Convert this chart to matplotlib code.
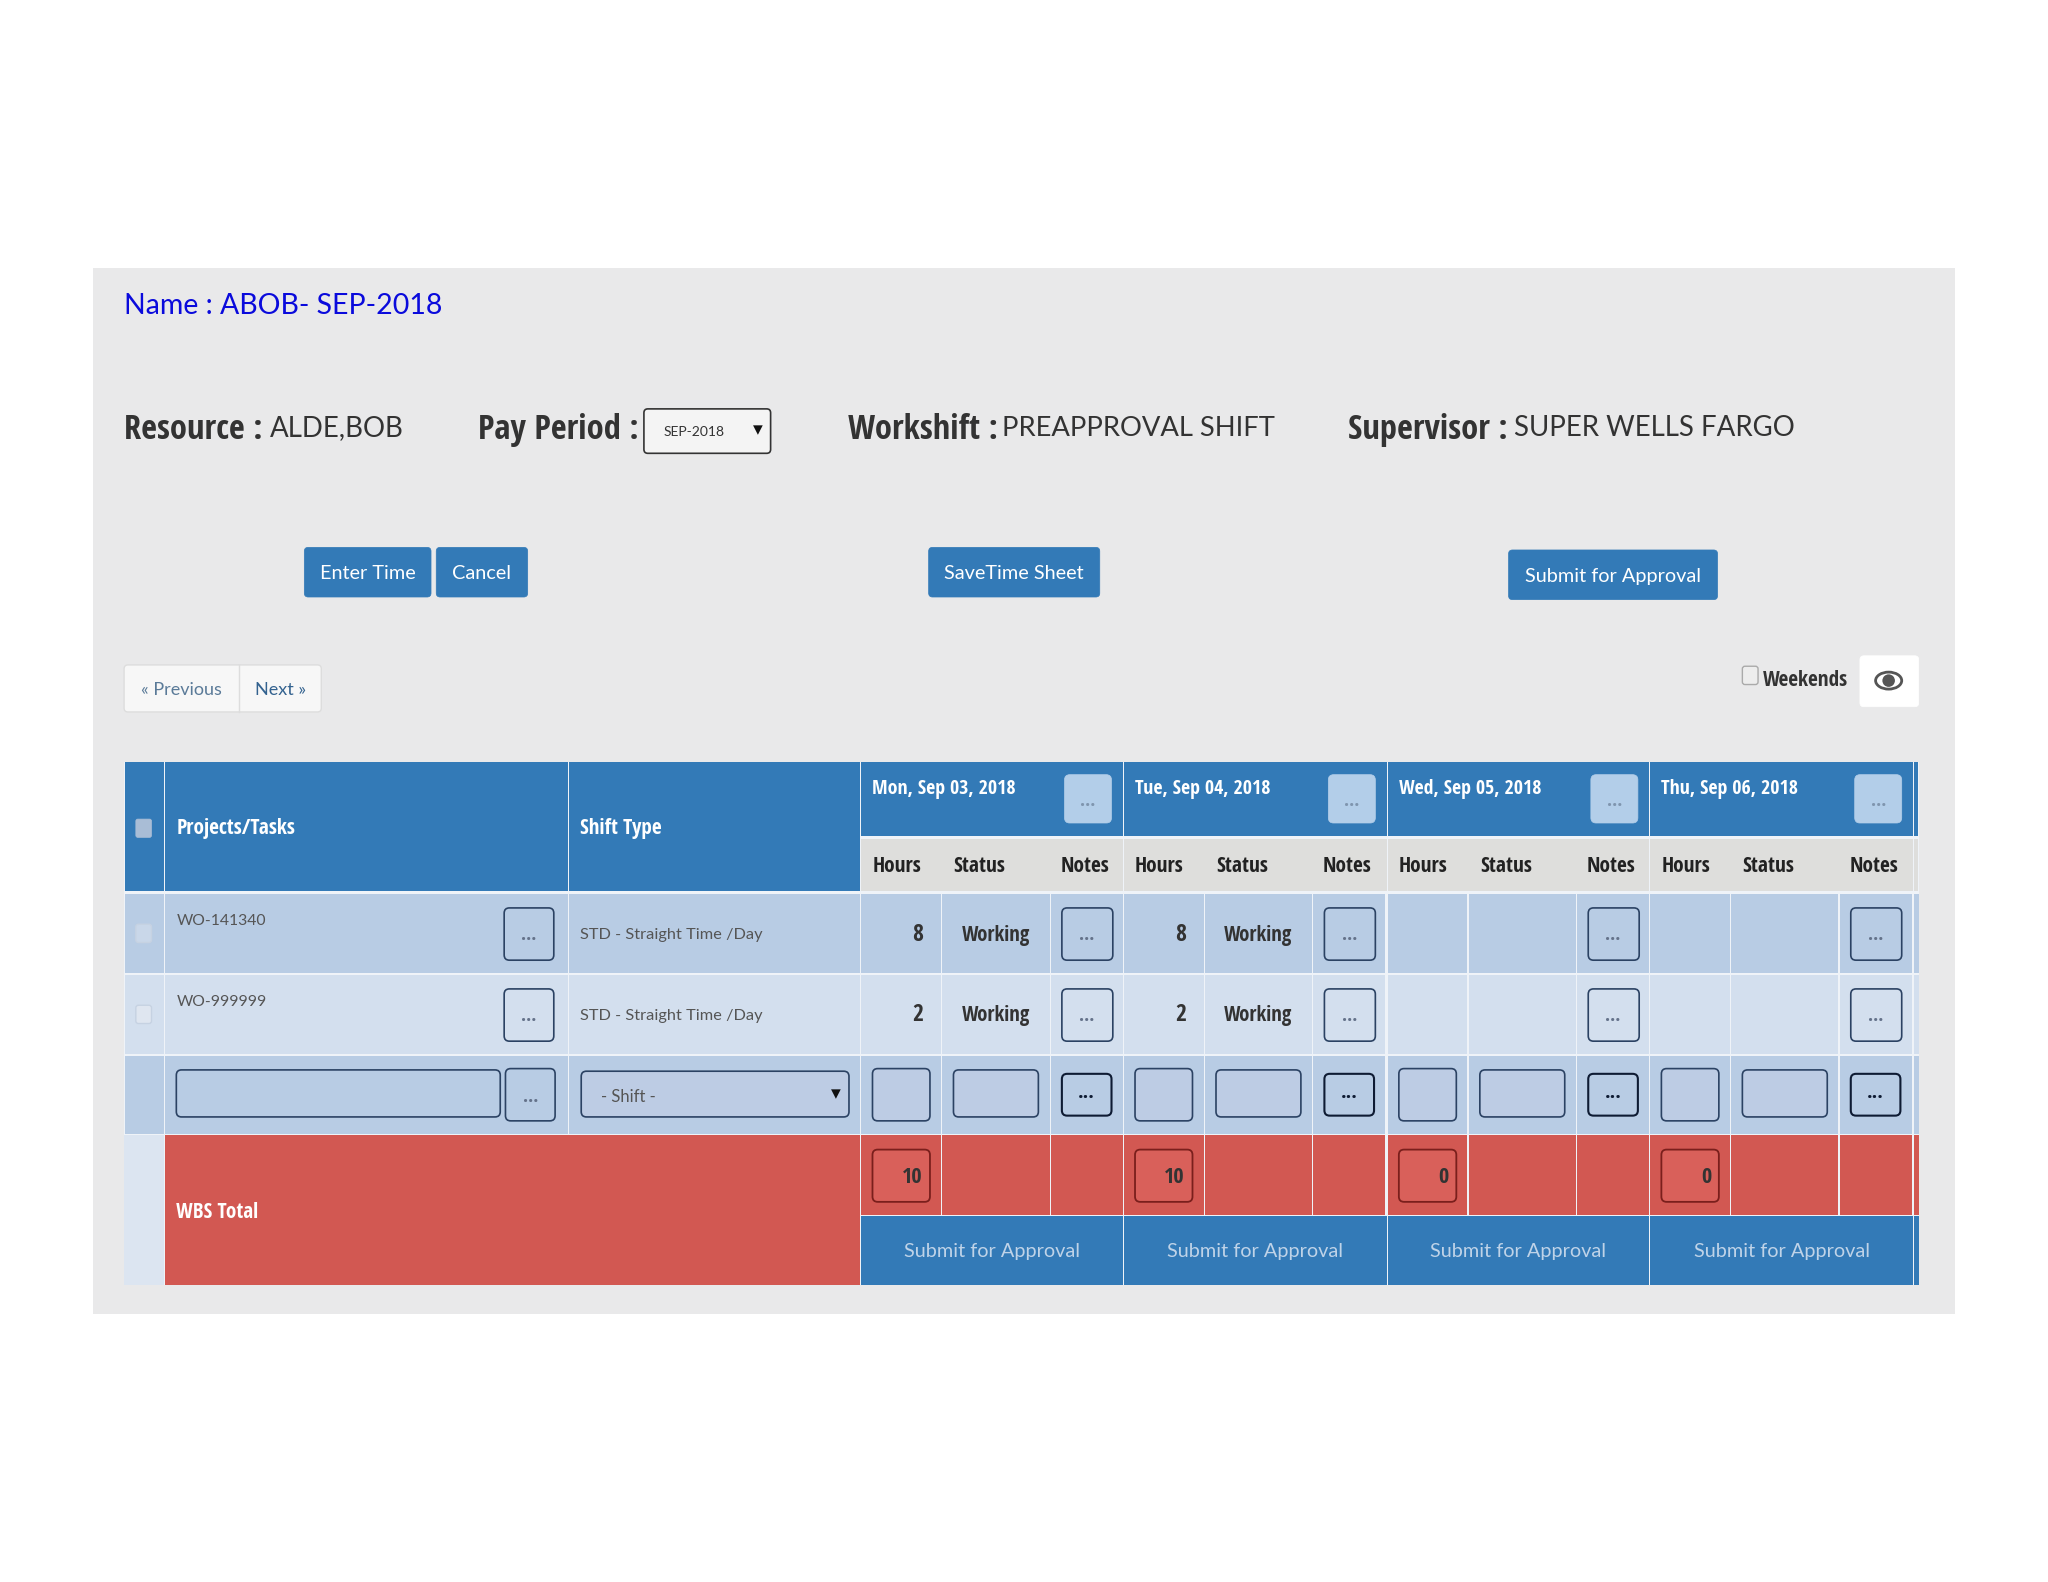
import matplotlib
matplotlib.use("Agg")
import matplotlib.pyplot as plt
import matplotlib.patches as patches
from matplotlib import font_manager

# condensed bold for headings, regular text needs a lighter face
entries = [f for f in font_manager.fontManager.ttflist if f.name == "Open Sans Condensed"]
BOLD_FONT = "Open Sans Condensed" if entries else "Lato"
has_light = any(str(f.weight) in ("300", "light", "400", "normal", "regular") for f in entries)
REG_FONT = "Open Sans Condensed" if has_light else "Lato"
REG_WEIGHT = "light" if has_light else "normal"
plt.rcParams["font.family"] = [REG_FONT, "DejaVu Sans"]

# values
day_labels = ["Mon, Sep 03, 2018", "Tue, Sep 04, 2018", "Wed, Sep 05, 2018", "Thu, Sep 06, 2018"]
sub_headers = ["Hours", "Status", "Notes"]
tasks = ["WO-141340", "WO-999999"]
shift_name = "STD - Straight Time /Day"
hours_row1 = ["8", "8", "", ""]
hours_row2 = ["2", "2", "", ""]
status_row1 = ["Working", "Working", "", ""]
status_row2 = ["Working", "Working", "", ""]
totals = ["10", "10", "0", "0"]

# colours
BLUE = "#337AB7"
PANEL = "#E9E9EA"
ROW_A = "#B8CCE4"
ROW_B = "#D3DFEE"
RED = "#D25852"
SUBHEAD = "#DEDEDC"
EDGE = "#2B4263"
TEXT = "#333333"

fig = plt.figure(figsize=(20.48, 15.82), dpi=100, facecolor="white")
ax = fig.add_axes([0, 0, 1, 1])
ax.set_xlim(0, 1568)
ax.set_ylim(1211, 0)
ax.axis("off")


def rect(x0, y0, x1, y1, color, z=1):
    ax.add_patch(patches.Rectangle((x0, y0), x1 - x0, y1 - y0, facecolor=color, edgecolor="none", zorder=z))


def box(x0, y0, x1, y1, face, edge=EDGE, lw=1.2, r=4, z=3):
    ax.add_patch(patches.FancyBboxPatch((x0 + r, y0 + r), x1 - x0 - 2 * r, y1 - y0 - 2 * r,
                                        boxstyle=f"round,pad={r},rounding_size={r}",
                                        facecolor=face, edgecolor=edge, linewidth=lw, zorder=z))


def txt(x, y, s, size=14, color=TEXT, ha="left"):
    ax.text(x, y, s, fontsize=size, color=color, fontweight=REG_WEIGHT, family=[REG_FONT, "DejaVu Sans"],
            ha=ha, va="center", zorder=5)


def btxt(x, y, s, size=14, color=TEXT, ha="left"):
    ax.text(x, y, s, fontsize=size, color=color, fontweight="bold", family=[BOLD_FONT, "DejaVu Sans"],
            ha=ha, va="center", zorder=5)


def dots(x, y, color="#64728A", size=14):
    btxt(x, y, "...", size=size, color=color, ha="center")


# main grey panel
rect(71, 205, 1497, 1006, PANEL, z=0)

txt(95, 234, "Name : ABOB- SEP-2018", size=20.5, color="#0A0ADC")

# resource line
btxt(95, 329, "Resource :", size=24.8)
txt(207, 328, "ALDE,BOB", size=19.9)
btxt(366, 329, "Pay Period :", size=24.8)
box(493, 313, 590, 347, "#F4F4F4", edge="#333333", lw=1.2, r=3)
txt(508, 331, "SEP-2018", size=10)
txt(580, 329, "▾", size=14, color="#111111", ha="center")
btxt(649, 329, "Workshift :", size=24.8)
txt(767, 328, "PREAPPROVAL SHIFT", size=19.7)
btxt(1032, 329, "Supervisor :", size=24.8)
txt(1159, 328, "SUPER WELLS FARGO", size=19.9)

# action buttons
for x0, x1, y0, y1, label in [(233, 330, 419, 457, "Enter Time"), (334, 404, 419, 457, "Cancel"),
                              (711, 842, 419, 457, "SaveTime Sheet"), (1155, 1315, 421, 459, "Submit for Approval")]:
    box(x0, y0, x1, y1, BLUE, edge=BLUE, lw=0.5, r=3)
    txt((x0 + x1) / 2, (y0 + y1) / 2 + 1, label, size=14.3, color="white", ha="center")

# pager
box(95, 509, 246, 545, "#F7F7F7", edge="#DDDDDD", lw=1, r=3)
ax.plot([183, 183], [509, 545], color="#DDDDDD", lw=1, zorder=4)
txt(139, 528, "« Previous", size=13, color="#5A7A98", ha="center")
txt(215, 528, "Next »", size=13, color="#33628F", ha="center")

# weekends
box(1334, 510, 1346, 524, "#EDEDED", edge="#AAAAAA", lw=1, r=2)
btxt(1350, 521, "Weekends", size=15.4)
box(1424, 502, 1469, 541, "white", edge="white", lw=0.5, r=3)
ax.add_patch(patches.Ellipse((1446, 521), 20, 13, facecolor="white", edgecolor="#555555", linewidth=2, zorder=5))
ax.add_patch(patches.Circle((1446, 521), 4.8, facecolor="#555555", edgecolor="none", zorder=6))

# table backgrounds
T_L, T_R = 95, 1469
rect(T_L, 583, T_R, 984, "#EFF3F8", z=1)
col_x = [95, 126, 435, 659]
day_x = [659, 860, 1062, 1263, 1465]
sub_off = [0, 62, 145, 201]
gap = 0.9

# left header block
for a, b in zip(col_x[:-1], col_x[1:]):
    rect(a + gap / 2, 583, b - gap / 2, 682, BLUE, z=2)
btxt(135, 634, "Projects/Tasks", size=15.4, color="white")
btxt(444, 634, "Shift Type", size=15.2, color="white")
box(104, 627, 116, 641, "#A9BDD6", edge="#A9BDD6", lw=0.5, r=1.5)

# left columns of data rows
row_y = [(684, 745), (746, 807), (808, 868)]
row_col = [ROW_A, ROW_B, ROW_A]
for (y0, y1), c in zip(row_y, row_col):
    for a, b in zip(col_x[:-1], col_x[1:]):
        rect(a + gap / 2, y0, b - gap / 2, y1, c, z=2)

rect(95, 869, 126 - gap / 2, 984, "#DCE5F1", z=2)
rect(126 + gap / 2, 869, 659 - gap / 2, 984, RED, z=2)
btxt(135, 928, "WBS Total", size=15.2, color="white")

# task rows
for i, (y0, y1) in enumerate(row_y[:2]):
    txt(135, y0 + 21, tasks[i], size=11.3, color="#555555")
    txt(444, (y0 + y1) / 2 + 1, shift_name, size=11.8, color="#555555")
    box(386, y0 + 11, 424, y1 - 10, row_col[i])
    dots(405, (y0 + y1) / 2 + 1)
    box(104, (y0 + y1) / 2 - 7, 116, (y0 + y1) / 2 + 7, "#C9D7E9" if i == 0 else "#DFE6F0",
        edge="#C6D2E2", lw=1, r=2)

# input row
box(135, 819, 383, 855, ROW_A)
box(387, 818, 425, 858, ROW_A)
dots(406, 840)
box(445, 820, 650, 855, "#BDCCE4")
txt(460, 840, "- Shift -", size=12, color="#555555")
txt(640, 837, "▾", size=14, color="#111111", ha="center")

# day columns
for d, x in enumerate(day_x):
    sub = [x + o for o in sub_off]
    last = d == 4
    right = T_R if last else day_x[d + 1]
    rect(x + gap / 2, 583, right - gap / 2, 640, BLUE, z=2)
    rect(x + gap / 2, 642, right - gap / 2, 682, SUBHEAD, z=2)
    rows = list(zip(row_y, row_col))
    if last:
        # sliver of the next day on the right edge
        for (y0, y1), c in rows:
            rect(x + gap / 2, y0, right, y1, c, z=2)
        rect(x + gap / 2, 869, right, 930, RED, z=2)
        rect(x + gap / 2, 931, right, 984, BLUE, z=2)
        continue

    btxt(x + 9, 604, day_labels[d], size=14.3, color="white")
    box(right - 45, 593, right - 9, 630, "#B3CEE9", edge="#B3CEE9", lw=0.5)
    dots(right - 27, 613, color="#7F95AE")

    for j in range(3):
        a, b = sub[j], sub[j + 1]
        rect(a + gap / 2, 642, b - gap / 2, 682, SUBHEAD, z=2)
        btxt(a + (9 if j < 2 else 8), 663, sub_headers[j], size=15.4, color="#222222")
        for (y0, y1), c in rows:
            rect(a + gap / 2, y0, b - gap / 2, y1, c, z=2)
        rect(a + gap / 2, 869, b - gap / 2, 930, RED, z=2)

    rect(x + gap / 2, 931, right - gap / 2, 984, BLUE, z=2)
    txt((x + right) / 2, 958, "Submit for Approval", size=14.3, color="#BFD3E8", ha="center")

    # hours / status text
    btxt(sub[1] - 14, 716, hours_row1[d], size=17, color="#333333", ha="right")
    btxt(sub[1] - 14, 777, hours_row2[d], size=17, color="#333333", ha="right")
    btxt((sub[1] + sub[2]) / 2, 716, status_row1[d], size=15, color="#333333", ha="center")
    btxt((sub[1] + sub[2]) / 2, 777, status_row2[d], size=15, color="#333333", ha="center")

    # note buttons
    for (y0, y1), c in rows[:2]:
        box(sub[2] + 9, y0 + 11, sub[2] + 48, y1 - 10, c)
        dots(sub[2] + 28, (y0 + y1) / 2 + 1)

    # input row boxes
    box(sub[0] + 9, 818, sub[0] + 53, 858, "#BDCCE4")
    box(sub[1] + 9, 819, sub[1] + 74, 855, "#BDCCE4")
    box(sub[2] + 9, 822, sub[2] + 47, 854, ROW_A, edge="#0E1B33", lw=1.5)
    dots(sub[2] + 28, 836, color="#0E1B33", size=15)

    # total
    box(sub[0] + 9, 880, sub[0] + 53, 920, "#D9605A", edge="#7A1F1C", lw=1.3)
    btxt(sub[0] + 47, 901, totals[d], size=16, color="#333333", ha="right")

fig.savefig("out.png", dpi=100, facecolor="white")
